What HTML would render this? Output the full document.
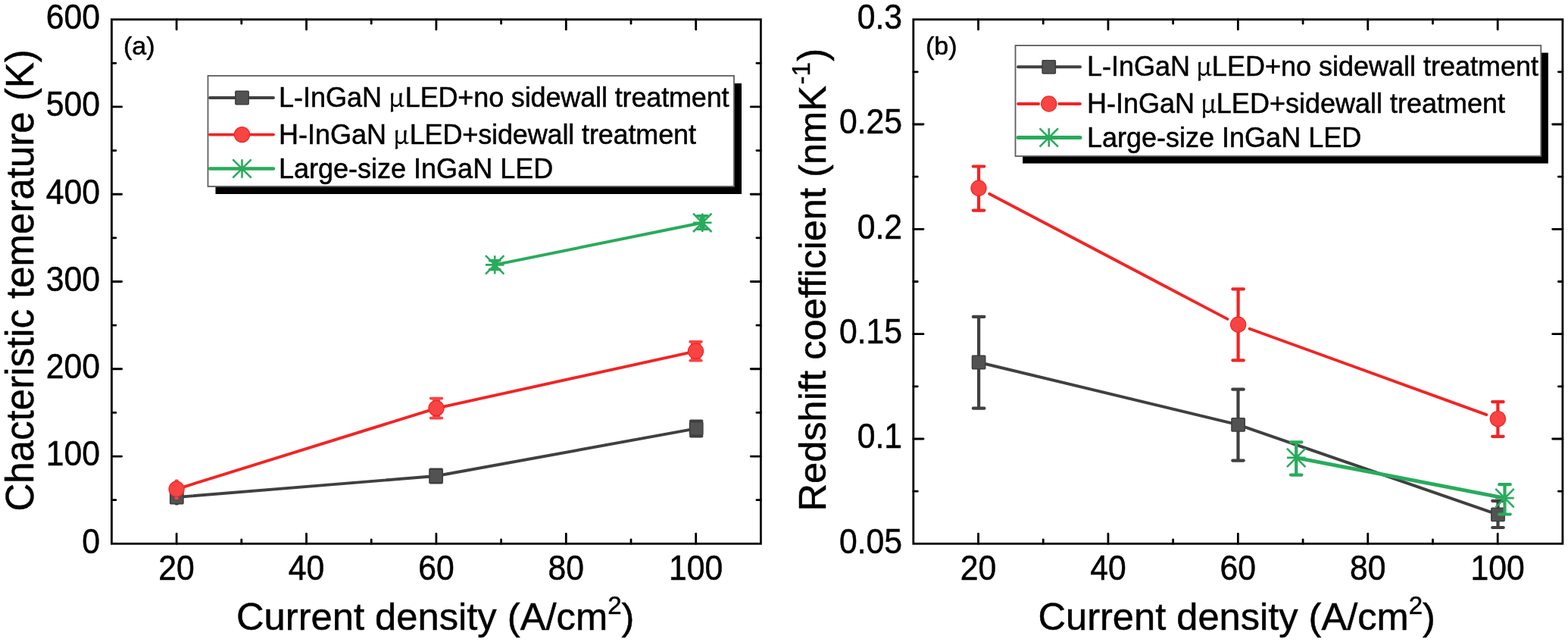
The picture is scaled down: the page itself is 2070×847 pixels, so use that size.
<!DOCTYPE html>
<html><head><meta charset="utf-8"><title>Figure</title>
<style>html,body{margin:0;padding:0;background:#fff;}body{width:2070px;height:847px;overflow:hidden;}svg{display:block;}text{stroke:#000;stroke-width:0.5px;}</style>
</head><body>
<svg width="2070" height="847" viewBox="0 0 2070 847" font-family='"Liberation Sans", Arial, sans-serif' fill="#000">
<rect width="2070" height="847" fill="#fff"/>
<path d="M233.1 717.3V704.1M233.1 25.7V38.9M404.5 717.3V704.1M404.5 25.7V38.9M575.9 717.3V704.1M575.9 25.7V38.9M747.3 717.3V704.1M747.3 25.7V38.9M918.7 717.3V704.1M918.7 25.7V38.9M318.8 717.3V711.8M318.8 25.7V31.2M490.2 717.3V711.8M490.2 25.7V31.2M661.6 717.3V711.8M661.6 25.7V31.2M833 717.3V711.8M833 25.7V31.2M147.4 602.03H160.6M1004.4 602.03H991.2M147.4 486.77H160.6M1004.4 486.77H991.2M147.4 371.5H160.6M1004.4 371.5H991.2M147.4 256.23H160.6M1004.4 256.23H991.2M147.4 140.97H160.6M1004.4 140.97H991.2M147.4 659.67H152.9M1004.4 659.67H998.9M147.4 544.4H152.9M1004.4 544.4H998.9M147.4 429.13H152.9M1004.4 429.13H998.9M147.4 313.87H152.9M1004.4 313.87H998.9M147.4 198.6H152.9M1004.4 198.6H998.9M147.4 83.33H152.9M1004.4 83.33H998.9" stroke="#000" stroke-width="2.8" stroke-linecap="round" fill="none"/>
<rect x="147.4" y="25.7" width="857" height="691.6" fill="none" stroke="#000" stroke-width="2.8"/>
<text transform="translate(233.1 764.9) scale(1 1.07)" font-size="42.7" text-anchor="middle">20</text>
<text transform="translate(404.5 764.9) scale(1 1.07)" font-size="42.7" text-anchor="middle">40</text>
<text transform="translate(575.9 764.9) scale(1 1.07)" font-size="42.7" text-anchor="middle">60</text>
<text transform="translate(747.3 764.9) scale(1 1.07)" font-size="42.7" text-anchor="middle">80</text>
<text transform="translate(918.7 764.9) scale(1 1.07)" font-size="42.7" text-anchor="middle">100</text>
<text transform="translate(132 729.6) scale(1 1.07)" font-size="42.7" text-anchor="end">0</text>
<text transform="translate(132 614.33) scale(1 1.07)" font-size="42.7" text-anchor="end">100</text>
<text transform="translate(132 499.07) scale(1 1.07)" font-size="42.7" text-anchor="end">200</text>
<text transform="translate(132 383.8) scale(1 1.07)" font-size="42.7" text-anchor="end">300</text>
<text transform="translate(132 268.53) scale(1 1.07)" font-size="42.7" text-anchor="end">400</text>
<text transform="translate(132 153.27) scale(1 1.07)" font-size="42.7" text-anchor="end">500</text>
<text transform="translate(132 38) scale(1 1.07)" font-size="42.7" text-anchor="end">600</text>
<text x="312" y="831" font-size="50.7" text-anchor="start">Current density (A/cm<tspan font-size="33" dy="-21">2</tspan><tspan dy="21">)</tspan></text>
<text transform="translate(43.5 674.5) rotate(-90)" font-size="51">Chacteristic temerature (K)</text>
<text x="163" y="72" font-size="34" text-anchor="start">(a)</text>
<rect x="284.5" y="110" width="694.5" height="146" fill="#000"/>
<rect x="274.5" y="100" width="694.5" height="146" fill="#fff" stroke="#5e5e5e" stroke-width="1.8"/>
<path d="M277 129H361" stroke="#404040" stroke-width="3.9" stroke-linecap="round"/>
<rect x="310.8" y="120.3" width="17.4" height="17.4" fill="#525252" stroke="#3c3c3c" stroke-width="1.4" rx="1"/>
<text x="368" y="141" font-size="36" text-anchor="start">L-InGaN <tspan font-family="'Noto Serif CJK SC', 'Liberation Serif', serif" font-size="34" dx="-1.2">μ</tspan><tspan dx="0.6" letter-spacing="-0.14">LED+no sidewall treatment</tspan></text>
<path d="M277 177.6H361" stroke="#f22424" stroke-width="3.9" stroke-linecap="round"/>
<circle cx="319.5" cy="177.6" r="10.1" fill="#f94444" stroke="#f22424" stroke-width="1.2"/>
<text x="368" y="189.6" font-size="36" text-anchor="start">H-InGaN <tspan font-family="'Noto Serif CJK SC', 'Liberation Serif', serif" font-size="34" dx="-1.2">μ</tspan><tspan dx="0.6" letter-spacing="-0.14">LED+sidewall treatment</tspan></text>
<path d="M277 222.5H361" stroke="#28ab5c" stroke-width="4.5" stroke-linecap="round"/>
<path d="M307.3 210.3L331.7 234.7M307.3 234.7L331.7 210.3M319.5 210.3V234.7M307.3 222.5H331.7" stroke="#28ab5c" stroke-width="2.6" fill="none"/>
<text x="368" y="234.5" font-size="36" text-anchor="start">Large-size InGaN LED</text>
<polyline points="233.3,656 575.6,628 919.2,565.4" fill="none" stroke="#404040" stroke-width="3.9" stroke-linejoin="round"/>
<path d="M233.3 648V665" stroke="#404040" stroke-width="5"/>
<path d="M232.3 648H234.3M232.3 665H234.3" stroke="#404040" stroke-width="3" stroke-linecap="round"/>
<path d="M575.6 619.2V636.8" stroke="#404040" stroke-width="8"/>
<path d="M568.15 619.2H583.05M568.15 636.8H583.05" stroke="#404040" stroke-width="3.6" stroke-linecap="round"/>
<path d="M919.2 555.2V575.6" stroke="#404040" stroke-width="12"/>
<path d="M911.75 555.2H926.65M911.75 575.6H926.65" stroke="#404040" stroke-width="3.6" stroke-linecap="round"/>
<rect x="224.6" y="647.3" width="17.4" height="17.4" fill="#525252" stroke="#3c3c3c" stroke-width="1.4" rx="1"/>
<rect x="566.9" y="619.3" width="17.4" height="17.4" fill="#525252" stroke="#3c3c3c" stroke-width="1.4" rx="1"/>
<rect x="910.5" y="556.7" width="17.4" height="17.4" fill="#525252" stroke="#3c3c3c" stroke-width="1.4" rx="1"/>
<polyline points="233.1,645.3 576,538.6 918.5,463.3" fill="none" stroke="#f22424" stroke-width="3.9" stroke-linejoin="round"/>
<path d="M233.1 634V657.5" stroke="#f94444" stroke-width="5"/>
<path d="M232.1 634H234.1M232.1 657.5H234.1" stroke="#f94444" stroke-width="3" stroke-linecap="round"/>
<path d="M576 525.6V551.6" stroke="#f94444" stroke-width="10"/>
<path d="M568.55 525.6H583.45M568.55 551.6H583.45" stroke="#f94444" stroke-width="3.6" stroke-linecap="round"/>
<path d="M918.5 450.9V475.7" stroke="#f94444" stroke-width="13"/>
<path d="M911.05 450.9H925.95M911.05 475.7H925.95" stroke="#f94444" stroke-width="3.6" stroke-linecap="round"/>
<circle cx="233.1" cy="645.3" r="10.1" fill="#f94444" stroke="#f22424" stroke-width="1.2"/>
<circle cx="576" cy="538.6" r="10.1" fill="#f94444" stroke="#f22424" stroke-width="1.2"/>
<circle cx="918.5" cy="463.3" r="10.1" fill="#f94444" stroke="#f22424" stroke-width="1.2"/>
<polyline points="653.2,349.4 927.3,293.8" fill="none" stroke="#28ab5c" stroke-width="4.0" stroke-linejoin="round"/>
<path d="M653.2 343.7V355.5" stroke="#28ab5c" stroke-width="6"/>
<path d="M646.5 343.7H659.9M646.5 355.5H659.9" stroke="#28ab5c" stroke-width="3.6" stroke-linecap="round"/>
<path d="M927.3 284.9V302.2" stroke="#28ab5c" stroke-width="7"/>
<path d="M920.6 284.9H934M920.6 302.2H934" stroke="#28ab5c" stroke-width="3.6" stroke-linecap="round"/>
<path d="M641 337.2L665.4 361.6M641 361.6L665.4 337.2M653.2 337.2V361.6M641 349.4H665.4" stroke="#28ab5c" stroke-width="2.6" fill="none"/>
<path d="M915.1 281.6L939.5 306M915.1 306L939.5 281.6M927.3 281.6V306M915.1 293.8H939.5" stroke="#28ab5c" stroke-width="2.6" fill="none"/>
<path d="M1291.51 717.3V704.1M1291.51 25.7V38.9M1462.93 717.3V704.1M1462.93 25.7V38.9M1634.35 717.3V704.1M1634.35 25.7V38.9M1805.77 717.3V704.1M1805.77 25.7V38.9M1977.19 717.3V704.1M1977.19 25.7V38.9M1377.22 717.3V711.8M1377.22 25.7V31.2M1548.64 717.3V711.8M1548.64 25.7V31.2M1720.06 717.3V711.8M1720.06 25.7V31.2M1891.48 717.3V711.8M1891.48 25.7V31.2M1205.8 578.98H1219M2062.9 578.98H2049.7M1205.8 440.66H1219M2062.9 440.66H2049.7M1205.8 302.34H1219M2062.9 302.34H2049.7M1205.8 164.02H1219M2062.9 164.02H2049.7M1205.8 648.14H1211.3M2062.9 648.14H2057.4M1205.8 509.82H1211.3M2062.9 509.82H2057.4M1205.8 371.5H1211.3M2062.9 371.5H2057.4M1205.8 233.18H1211.3M2062.9 233.18H2057.4M1205.8 94.86H1211.3M2062.9 94.86H2057.4" stroke="#000" stroke-width="2.8" stroke-linecap="round" fill="none"/>
<rect x="1205.8" y="25.7" width="857.1" height="691.6" fill="none" stroke="#000" stroke-width="2.8"/>
<text transform="translate(1291.51 764.9) scale(1 1.07)" font-size="42.7" text-anchor="middle">20</text>
<text transform="translate(1462.93 764.9) scale(1 1.07)" font-size="42.7" text-anchor="middle">40</text>
<text transform="translate(1634.35 764.9) scale(1 1.07)" font-size="42.7" text-anchor="middle">60</text>
<text transform="translate(1805.77 764.9) scale(1 1.07)" font-size="42.7" text-anchor="middle">80</text>
<text transform="translate(1977.19 764.9) scale(1 1.07)" font-size="42.7" text-anchor="middle">100</text>
<text transform="translate(1191 729.6) scale(1 1.07)" font-size="42.7" text-anchor="end">0.05</text>
<text transform="translate(1191 591.28) scale(1 1.07)" font-size="42.7" text-anchor="end">0.1</text>
<text transform="translate(1191 452.96) scale(1 1.07)" font-size="42.7" text-anchor="end">0.15</text>
<text transform="translate(1191 314.64) scale(1 1.07)" font-size="42.7" text-anchor="end">0.2</text>
<text transform="translate(1191 176.32) scale(1 1.07)" font-size="42.7" text-anchor="end">0.25</text>
<text transform="translate(1191 38) scale(1 1.07)" font-size="42.7" text-anchor="end">0.3</text>
<text x="1370.5" y="831" font-size="50.6" text-anchor="start">Current density (A/cm<tspan font-size="33" dy="-21">2</tspan><tspan dy="21">)</tspan></text>
<text transform="translate(1089.5 674.5) rotate(-90)" font-size="50.6">Redshift coefficient (nmK<tspan font-size="33" dy="-21" dx="1.5">-1</tspan><tspan dy="21" dx="1.5" font-size="51">)</tspan></text>
<text x="1222" y="72" font-size="34" text-anchor="start">(b)</text>
<rect x="1350.1" y="69.6" width="693.8" height="146" fill="#000"/>
<rect x="1340.5" y="60" width="693.8" height="146" fill="#fff" stroke="#5e5e5e" stroke-width="1.8"/>
<path d="M1344 88.3H1426" stroke="#404040" stroke-width="3.9" stroke-linecap="round"/>
<rect x="1376" y="79.6" width="17.4" height="17.4" fill="#525252" stroke="#3c3c3c" stroke-width="1.4" rx="1"/>
<text x="1435" y="100.3" font-size="36" text-anchor="start">L-InGaN <tspan font-family="'Noto Serif CJK SC', 'Liberation Serif', serif" font-size="34" dx="-2.2">μ</tspan><tspan dx="-0.3">LED+no sidewall treatment</tspan></text>
<path d="M1344 137H1371.2M1398.2 137H1426" stroke="#f22424" stroke-width="3.8" stroke-linecap="round"/>
<circle cx="1384.7" cy="137" r="10.1" fill="#f94444" stroke="#f22424" stroke-width="1.2"/>
<text x="1435" y="149" font-size="36" text-anchor="start">H-InGaN <tspan font-family="'Noto Serif CJK SC', 'Liberation Serif', serif" font-size="34" dx="-2.2">μ</tspan><tspan dx="-0.3">LED+sidewall treatment</tspan></text>
<path d="M1344 181.5H1426" stroke="#28ab5c" stroke-width="5" stroke-linecap="round"/>
<path d="M1372.5 169.3L1396.9 193.7M1372.5 193.7L1396.9 169.3M1384.7 169.3V193.7M1372.5 181.5H1396.9" stroke="#28ab5c" stroke-width="2.6" fill="none"/>
<text x="1435" y="193.5" font-size="36" text-anchor="start">Large-size InGaN LED</text>
<polyline points="1292.1,478 1634.6,560.3 1977.5,678.9" fill="none" stroke="#404040" stroke-width="3.9" stroke-linejoin="round"/>
<path d="M1292.1 417.9V538.7M1284.85 417.9H1299.35M1284.85 538.7H1299.35" stroke="#404040" stroke-width="4.2" stroke-linecap="round" fill="none"/>
<path d="M1634.5 513.7V607.6M1627.25 513.7H1641.75M1627.25 607.6H1641.75" stroke="#404040" stroke-width="4.2" stroke-linecap="round" fill="none"/>
<path d="M1977.5 660.8V696M1970.25 660.8H1984.75M1970.25 696H1984.75" stroke="#404040" stroke-width="4.2" stroke-linecap="round" fill="none"/>
<rect x="1283.4" y="469.3" width="17.4" height="17.4" fill="#525252" stroke="#3c3c3c" stroke-width="1.4" rx="1"/>
<rect x="1625.9" y="551.6" width="17.4" height="17.4" fill="#525252" stroke="#3c3c3c" stroke-width="1.4" rx="1"/>
<rect x="1968.8" y="670.2" width="17.4" height="17.4" fill="#525252" stroke="#3c3c3c" stroke-width="1.4" rx="1"/>
<path d="M1306.16 255.74L1620.44 420.86M1649.64 433.75L1962.36 547.15" stroke="#f22424" stroke-width="3.9" stroke-linecap="round" fill="none"/>
<path d="M1292 219.5V277.6M1284.75 219.5H1299.25M1284.75 277.6H1299.25" stroke="#f22424" stroke-width="4.2" stroke-linecap="round" fill="none"/>
<path d="M1634.6 381.3V475.3M1627.35 381.3H1641.85M1627.35 475.3H1641.85" stroke="#f22424" stroke-width="4.2" stroke-linecap="round" fill="none"/>
<path d="M1977.4 530.1V575.8M1970.15 530.1H1984.65M1970.15 575.8H1984.65" stroke="#f22424" stroke-width="4.2" stroke-linecap="round" fill="none"/>
<circle cx="1292" cy="248.3" r="10.1" fill="#f94444" stroke="#f22424" stroke-width="1.2"/>
<circle cx="1634.6" cy="428.3" r="10.1" fill="#f94444" stroke="#f22424" stroke-width="1.2"/>
<circle cx="1977.4" cy="552.6" r="10.1" fill="#f94444" stroke="#f22424" stroke-width="1.2"/>
<polyline points="1711.2,603.9 1986.5,657.1" fill="none" stroke="#28ab5c" stroke-width="5" stroke-linejoin="round"/>
<path d="M1711.2 583.3V626.6M1703.95 583.3H1718.45M1703.95 626.6H1718.45" stroke="#28ab5c" stroke-width="4.2" stroke-linecap="round" fill="none"/>
<path d="M1986.5 639.2V678.5M1979.25 639.2H1993.75M1979.25 678.5H1993.75" stroke="#28ab5c" stroke-width="4.2" stroke-linecap="round" fill="none"/>
<path d="M1699 591.7L1723.4 616.1M1699 616.1L1723.4 591.7M1711.2 591.7V616.1M1699 603.9H1723.4" stroke="#28ab5c" stroke-width="2.6" fill="none"/>
<path d="M1974.3 644.9L1998.7 669.3M1974.3 669.3L1998.7 644.9M1986.5 644.9V669.3M1974.3 657.1H1998.7" stroke="#28ab5c" stroke-width="2.6" fill="none"/>
</svg>
</body></html>
